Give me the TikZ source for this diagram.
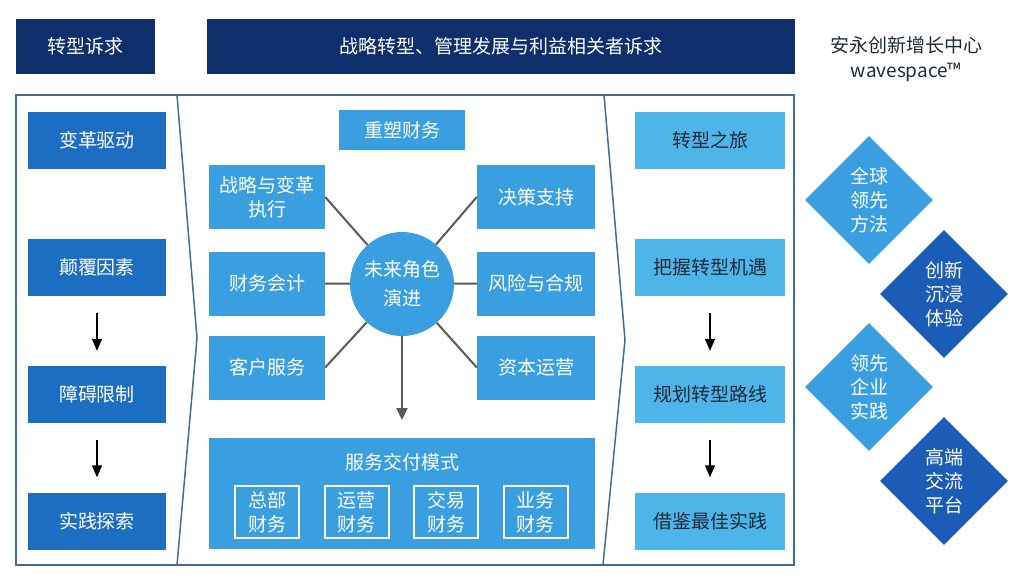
\documentclass[tikz,border=0pt]{standalone}
\usepackage{fontspec}
\setmainfont{Noto Sans CJK SC}
\usetikzlibrary{shapes.geometric,arrows.meta}
\definecolor{HeadNavy}{HTML}{0F2E6C}
\definecolor{DriveBlue}{HTML}{1B6EC2}
\definecolor{RoleBlue}{HTML}{3A9FE0}
\definecolor{JourneyBlue}{HTML}{4DB5E7}
\definecolor{JourneyInk}{HTML}{1E2A3A}
\definecolor{FrameSteel}{HTML}{3E6D95}
\definecolor{SpokeGray}{HTML}{595959}
\definecolor{GemDark}{HTML}{1B5CB6}

\begin{document}
\begin{tikzpicture}[x=1pt,y=-1pt,
  every node/.style={font=\fontsize{19}{24}\selectfont, inner sep=0pt, align=center},
  headbox/.style={fill=HeadNavy, text=white, minimum height=55},
  drivebox/.style={fill=DriveBlue, text=white, minimum width=138, minimum height=57},
  rolebox/.style={fill=RoleBlue, text=white, minimum width=116, minimum height=64},
  journeybox/.style={fill=JourneyBlue, text=JourneyInk, minimum width=150, minimum height=57},
  unitbox/.style={draw=white, line width=2, text=white, minimum width=64, minimum height=52},
  gem/.style={diamond, text=white, minimum width=128, minimum height=128},
  spoke/.style={SpokeGray, line width=2},
  steparrow/.style={black, line width=1.6, -{Triangle[length=12,width=10]},
    shorten <=17, shorten >=15}]
  \useasboundingbox (0,0) rectangle (1029,579);
  % headers
  \node[headbox, minimum width=139] (needs) at (85.5,46.5) {转型诉求};
  \node[headbox, minimum width=588] (strategy) at (501,46.5) {战略转型、管理发展与利益相关者诉求};
  \node[text=JourneyInk] (eyname) at (906,45) {安永创新增长中心};
  \node[text=JourneyInk] (wave) at (906,72) {wavespace™};
  % frame and chevrons
  \draw[FrameSteel, line width=2] (16,95) rectangle (794,565);
  \draw[FrameSteel, line width=1.5] (177,95) -- (197,338) -- (177,565);
  \draw[FrameSteel, line width=1.5] (604,95) -- (625,340) -- (603,565);
  % left column
  \foreach \y/\name/\txt in {140/drive/变革驱动, 267.5/disrupt/颠覆因素,
      394.5/barrier/障碍限制, 521/explore/实践探索}
    \node[drivebox] (\name) at (97,\y) {\txt};
  \draw[steparrow] (disrupt) -- (barrier);
  \draw[steparrow] (barrier) -- (explore);
  % centre
  \node[rolebox, minimum width=126, minimum height=40] (reshape) at (402,130) {重塑财务};
  \node[rolebox] (exec) at (267,197) {战略与变革\\执行};
  \node[rolebox] (account) at (267,283.5) {财务会计};
  \node[rolebox] (client) at (267,367.5) {客户服务};
  \node[rolebox, minimum width=118] (decide) at (536,197) {决策支持};
  \node[rolebox, minimum width=118] (risk) at (536,283.5) {风险与合规};
  \node[rolebox, minimum width=118] (capital) at (536,367.5) {资本运营};
  \node[circle, fill=RoleBlue, text=white, minimum size=104,
    font=\fontsize{19}{29}\selectfont] (hub) at (402,284) {未来角色\\演进};
  \foreach \name in {exec,account,client}
    \draw[spoke] (\name.east) -- (hub);
  \foreach \name in {decide,risk,capital}
    \draw[spoke] (\name.west) -- (hub);
  \node[fill=RoleBlue, minimum width=386, minimum height=111] (delivery) at (402,493.5) {};
  \coordinate (deliveryTip) at (402,420);
  \draw[spoke, -{Triangle[length=12,width=11]}] (hub) -- (deliveryTip);
  \node[text=white] (deliveryTitle) at (402,462) {服务交付模式};
  \foreach \x/\name/\txt in {267/hq/总部, 356.5/ops/运营, 446/deal/交易, 535.5/biz/业务}
    \node[unitbox] (\name) at (\x,512) {\txt\\财务};
  % right column
  \foreach \y/\name/\txt in {140/journey/转型之旅, 267.5/seize/把握转型机遇,
      394.5/plan/规划转型路线, 521/borrow/借鉴最佳实践}
    \node[journeybox] (\name) at (710,\y) {\txt};
  \draw[steparrow] (seize) -- (plan);
  \draw[steparrow] (plan) -- (borrow);
  % diamonds
  \node[gem, fill=RoleBlue] (method) at (869,200) {全球\\领先\\方法};
  \node[gem, fill=GemDark] (immerse) at (944,294) {创新\\沉浸\\体验};
  \node[gem, fill=RoleBlue] (practice) at (869,387) {领先\\企业\\实践};
  \node[gem, fill=GemDark] (forum) at (944,481) {高端\\交流\\平台};
\end{tikzpicture}
\end{document}
